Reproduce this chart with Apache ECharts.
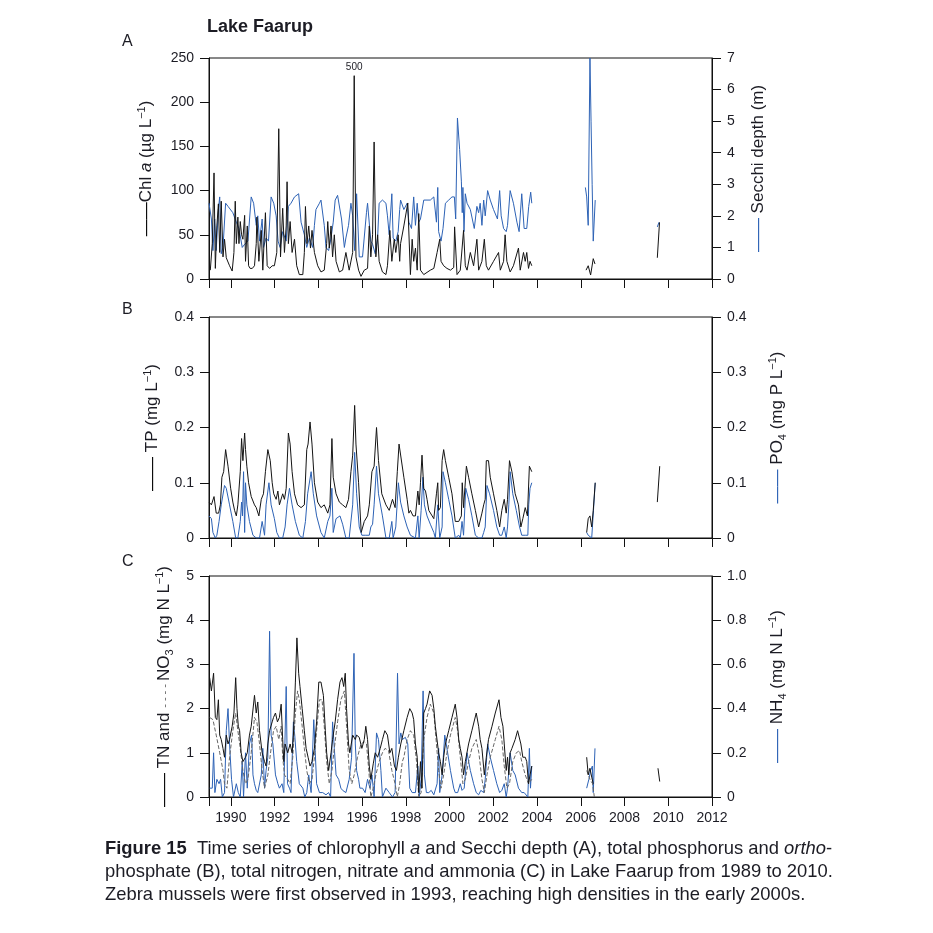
<!DOCTYPE html>
<html><head><meta charset="utf-8">
<script src="https://cdn.jsdelivr.net/npm/echarts@6/dist/echarts.min.js"></script>
<style>html,body{margin:0;padding:0;background:#fff}#c{width:933px;height:933px}</style>
</head><body><div id="c"></div>
<script>
// ---- tick labels ----
const xTicks = [1989,1990,1992,1994,1996,1998,2000,2002,2004,2006,2008,2010,2012];
const xLabels = [1990,1992,1994,1996,1998,2000,2002,2004,2006,2008,2010,2012];

// ---- Panel A: Chl a (µg/L) ----
const chlA_1 = [[1989.06,10],[1989.15,40],[1989.23,120],[1989.29,12],[1989.36,60],[1989.43,85],[1989.49,30],[1989.56,88],[1989.64,25],[1989.71,45],[1989.79,24],[1989.94,15],[1990.06,9],[1990.14,30],[1990.20,88],[1990.25,40],[1990.32,70],[1990.37,40],[1990.43,65],[1990.49,50],[1990.55,45],[1990.63,72],[1990.67,20],[1990.75,60],[1990.81,15],[1990.88,12],[1990.98,12],[1991.08,15],[1991.16,40],[1991.19,70],[1991.28,20],[1991.39,55],[1991.46,10],[1991.58,75],[1991.66,15],[1991.77,12],[1991.89,15],[1991.99,15],[1992.10,30],[1992.19,170],[1992.27,25],[1992.37,80],[1992.45,30],[1992.53,60],[1992.57,110],[1992.63,40],[1992.71,65],[1992.80,30],[1992.91,45],[1993.01,15],[1993.13,5],[1993.29,5],[1993.36,30],[1993.41,82],[1993.48,40],[1993.56,60],[1993.64,35],[1993.71,55],[1993.82,30],[1993.97,15],[1994.12,8],[1994.27,10],[1994.38,40],[1994.43,65],[1994.50,35],[1994.58,60],[1994.65,25],[1994.73,50],[1994.81,20],[1994.96,8],[1995.11,10],[1995.26,30],[1995.41,10],[1995.57,30],[1995.64,230],[1995.72,25],[1995.84,10],[1995.95,3],[1996.10,10],[1996.25,12],[1996.33,60],[1996.40,25],[1996.48,50],[1996.55,155],[1996.63,25],[1996.71,50],[1996.78,20],[1996.93,8],[1997.09,5],[1997.16,15],[1997.27,55],[1997.36,20],[1997.47,45],[1997.54,30],[1997.65,50],[1997.72,20],[1997.76,40],[1997.91,60],[1998.09,86],[1998.21,5],[1998.29,45],[1998.36,20],[1998.44,35],[1998.52,10],[1998.59,74],[1998.67,10],[1998.82,5],[1999.12,10],[1999.28,12],[1999.43,30],[1999.55,45],[1999.61,20],[1999.73,15],[1999.88,12],[2000.04,10],[2000.19,13],[2000.23,59],[2000.34,5],[2000.49,10],[2000.64,55],[2000.72,15],[2000.80,10],[2000.95,30],[2001.10,15],[2001.25,45],[2001.33,10],[2001.48,20],[2001.59,45],[2001.68,15],[2001.78,10],[2002.01,20],[2002.24,30],[2002.32,10],[2002.47,20],[2002.54,50],[2002.62,20],[2002.77,8],[2002.92,15],[2003.15,35],[2003.23,10],[2003.38,30],[2003.46,20],[2003.53,30],[2003.61,12],[2003.68,20],[2003.76,15]];
const chlA_2 = [[2006.24,10],[2006.34,15],[2006.45,4.5],[2006.57,23],[2006.65,17]];
const chlA_3 = [[2009.50,24],[2009.60,64]];

// ---- Panel A: Secchi depth (m) ----
const secchi_1 = [[1989.00,2.4],[1989.11,1.9],[1989.18,0.9],[1989.26,1.9],[1989.33,0.9],[1989.43,2.2],[1989.49,2.6],[1989.56,0.8],[1989.64,1.0],[1989.76,2.4],[1989.87,2.3],[1990.09,2.1],[1990.25,1.8],[1990.37,1.6],[1990.52,1.0],[1990.63,1.1],[1990.78,1.2],[1990.93,2.6],[1991.04,2.4],[1991.16,1.7],[1991.23,2.0],[1991.31,1.2],[1991.43,1.9],[1991.49,1.0],[1991.61,1.3],[1991.72,1.2],[1991.84,2.6],[1991.96,2.4],[1992.07,2.0],[1992.16,1.2],[1992.25,1.0],[1992.37,1.5],[1992.53,1.2],[1992.63,2.3],[1992.75,2.4],[1992.91,2.6],[1993.10,2.7],[1993.21,1.8],[1993.36,1.4],[1993.47,1.0],[1993.59,1.3],[1993.74,1.0],[1993.82,1.7],[1993.89,2.2],[1994.05,2.4],[1994.12,2.5],[1994.27,1.7],[1994.35,1.0],[1994.47,0.9],[1994.58,1.3],[1994.68,1.8],[1994.77,2.5],[1994.88,2.65],[1994.96,2.6],[1995.06,1.9],[1995.19,1.0],[1995.26,1.3],[1995.38,1.7],[1995.49,2.4],[1995.57,2.0],[1995.66,0.9],[1995.75,2.7],[1995.87,0.7],[1996.02,0.7],[1996.20,2.1],[1996.25,2.4],[1996.40,1.2],[1996.48,1.1],[1996.60,0.8],[1996.71,1.3],[1996.78,2.4],[1996.93,2.5],[1997.09,2.4],[1997.16,2.0],[1997.24,1.4],[1997.36,2.7],[1997.42,1.3],[1997.54,1.2],[1997.65,1.5],[1997.72,2.2],[1997.76,2.5],[1997.91,2.2],[1998.06,2.4],[1998.14,1.8],[1998.26,1.6],[1998.36,2.6],[1998.44,1.7],[1998.52,2.4],[1998.59,1.8],[1998.67,1.9],[1998.82,2.5],[1999.12,2.5],[1999.28,2.6],[1999.40,1.8],[1999.46,2.9],[1999.50,1.5],[1999.61,1.2],[1999.70,1.6],[1999.81,2.4],[1999.96,2.5],[2000.11,2.6],[2000.22,2.6],[2000.28,1.9],[2000.36,5.1],[2000.46,4.1],[2000.54,3.1],[2000.58,2.1],[2000.61,2.9],[2000.66,1.5],[2000.72,2.7],[2000.80,2.4],[2000.95,2.2],[2001.13,1.6],[2001.25,2.3],[2001.33,2.1],[2001.40,2.4],[2001.48,1.7],[2001.56,2.5],[2001.63,2.0],[2001.74,2.8],[2001.86,2.5],[2002.01,2.2],[2002.19,1.9],[2002.29,2.8],[2002.36,2.0],[2002.47,1.6],[2002.59,1.5],[2002.65,1.7],[2002.77,2.8],[2002.92,2.4],[2003.08,1.8],[2003.18,1.5],[2003.30,2.7],[2003.41,1.6],[2003.53,1.6],[2003.62,2.3],[2003.71,2.75],[2003.76,2.4]];
const secchi_2 = [[2006.21,2.9],[2006.27,2.6],[2006.34,1.7],[2006.42,7.0],[2006.47,5.0],[2006.52,3.0],[2006.57,1.2],[2006.66,2.5]];
const secchi_3 = [[2009.50,1.65],[2009.58,1.8]];

// ---- Panel B: TP (mg/L) ----
const tp_1 = [[1989.00,0.065],[1989.11,0.06],[1989.23,0.075],[1989.33,0.045],[1989.44,0.045],[1989.52,0.06],[1989.59,0.11],[1989.67,0.12],[1989.76,0.16],[1989.87,0.13],[1989.99,0.09],[1990.09,0.065],[1990.17,0.05],[1990.25,0.04],[1990.32,0.06],[1990.43,0.12],[1990.49,0.18],[1990.55,0.14],[1990.63,0.19],[1990.67,0.16],[1990.73,0.13],[1990.81,0.10],[1990.93,0.075],[1991.08,0.06],[1991.16,0.055],[1991.28,0.04],[1991.39,0.07],[1991.49,0.08],[1991.58,0.12],[1991.69,0.16],[1991.80,0.14],[1991.89,0.10],[1991.96,0.08],[1992.07,0.07],[1992.15,0.085],[1992.22,0.06],[1992.37,0.08],[1992.45,0.07],[1992.53,0.09],[1992.63,0.19],[1992.71,0.17],[1992.80,0.12],[1992.91,0.08],[1993.05,0.06],[1993.21,0.055],[1993.36,0.06],[1993.47,0.16],[1993.53,0.17],[1993.62,0.21],[1993.71,0.17],[1993.82,0.10],[1993.97,0.065],[1994.12,0.055],[1994.27,0.06],[1994.43,0.045],[1994.53,0.06],[1994.62,0.18],[1994.68,0.11],[1994.81,0.08],[1994.96,0.065],[1995.11,0.06],[1995.26,0.055],[1995.38,0.07],[1995.49,0.12],[1995.57,0.15],[1995.66,0.24],[1995.72,0.17],[1995.84,0.10],[1995.96,0.01],[1996.10,0.03],[1996.25,0.04],[1996.33,0.06],[1996.45,0.12],[1996.55,0.13],[1996.66,0.20],[1996.75,0.14],[1996.90,0.08],[1997.09,0.06],[1997.24,0.05],[1997.39,0.07],[1997.51,0.055],[1997.61,0.12],[1997.69,0.17],[1997.91,0.11],[1998.06,0.07],[1998.14,0.045],[1998.21,0.05],[1998.33,0.04],[1998.44,0.04],[1998.55,0.085],[1998.61,0.06],[1998.67,0.10],[1998.74,0.15],[1998.82,0.09],[1998.90,0.085],[1998.97,0.07],[1999.05,0.05],[1999.12,0.05],[1999.28,0.035],[1999.40,0.08],[1999.46,0.10],[1999.50,0.05],[1999.58,0.055],[1999.66,0.14],[1999.73,0.16],[1999.81,0.14],[1999.96,0.11],[2000.11,0.08],[2000.26,0.03],[2000.42,0.03],[2000.54,0.04],[2000.58,0.10],[2000.64,0.055],[2000.77,0.13],[2000.87,0.11],[2001.02,0.08],[2001.18,0.05],[2001.33,0.02],[2001.48,0.045],[2001.56,0.06],[2001.63,0.07],[2001.68,0.14],[2001.78,0.14],[2001.86,0.11],[2002.01,0.08],[2002.16,0.05],[2002.29,0.02],[2002.39,0.05],[2002.50,0.07],[2002.59,0.045],[2002.65,0.07],[2002.74,0.14],[2002.85,0.12],[2003.00,0.08],[2003.15,0.06],[2003.26,0.02],[2003.35,0.035],[2003.46,0.055],[2003.56,0.04],[2003.65,0.13],[2003.71,0.13],[2003.76,0.12]];
const tp_2 = [[2006.27,0.01],[2006.34,0.035],[2006.42,0.04],[2006.50,0.02],[2006.57,0.05],[2006.66,0.10]];
const tp_3 = [[2009.50,0.065],[2009.61,0.13]];

// ---- Panel B: PO4 (mg P/L) ----
const po4_1 = [[1989.00,0.04],[1989.11,0.035],[1989.18,0.01],[1989.29,0.0],[1989.36,0.005],[1989.46,0.03],[1989.56,0.06],[1989.71,0.095],[1989.79,0.09],[1989.94,0.06],[1990.09,0.03],[1990.22,0.0],[1990.32,0.0],[1990.43,0.03],[1990.49,0.065],[1990.53,0.04],[1990.58,0.12],[1990.63,0.01],[1990.67,0.10],[1990.73,0.06],[1990.85,0.03],[1991.01,0.005],[1991.16,0.0],[1991.31,0.0],[1991.43,0.03],[1991.54,0.005],[1991.61,0.06],[1991.74,0.10],[1991.84,0.06],[1991.99,0.035],[1992.10,0.01],[1992.22,0.0],[1992.37,0.0],[1992.48,0.02],[1992.57,0.06],[1992.68,0.09],[1992.80,0.06],[1992.95,0.03],[1993.13,0.005],[1993.29,0.0],[1993.41,0.03],[1993.51,0.08],[1993.67,0.12],[1993.77,0.08],[1993.92,0.04],[1994.12,0.01],[1994.27,0.0],[1994.43,0.03],[1994.53,0.04],[1994.62,0.09],[1994.68,0.01],[1994.81,0.035],[1994.99,0.04],[1995.11,0.025],[1995.26,0.0],[1995.41,0.0],[1995.57,0.06],[1995.66,0.155],[1995.75,0.08],[1995.87,0.02],[1995.99,0.005],[1996.17,0.005],[1996.33,0.005],[1996.40,0.02],[1996.48,0.025],[1996.55,0.06],[1996.66,0.13],[1996.75,0.08],[1996.93,0.04],[1997.09,0.0],[1997.24,0.0],[1997.36,0.03],[1997.42,0.0],[1997.54,0.02],[1997.66,0.10],[1997.76,0.065],[1997.91,0.04],[1998.06,0.02],[1998.21,0.005],[1998.44,0.0],[1998.55,0.04],[1998.61,0.0],[1998.70,0.05],[1998.78,0.11],[1998.85,0.06],[1998.97,0.04],[1999.12,0.025],[1999.28,0.01],[1999.35,0.0],[1999.46,0.06],[1999.55,0.0],[1999.66,0.02],[1999.70,0.12],[1999.81,0.10],[1999.96,0.07],[2000.11,0.04],[2000.26,0.0],[2000.42,0.005],[2000.49,0.0],[2000.57,0.03],[2000.64,0.005],[2000.74,0.09],[2000.87,0.07],[2001.02,0.04],[2001.18,0.005],[2001.33,0.0],[2001.48,0.0],[2001.56,0.01],[2001.63,0.02],[2001.71,0.095],[2001.83,0.08],[2002.01,0.05],[2002.16,0.02],[2002.29,0.005],[2002.39,0.005],[2002.50,0.02],[2002.59,0.0],[2002.65,0.02],[2002.71,0.06],[2002.77,0.12],[2002.89,0.08],[2003.05,0.05],[2003.20,0.02],[2003.30,0.005],[2003.46,0.005],[2003.58,0.005],[2003.62,0.06],[2003.68,0.09],[2003.76,0.10]];
const po4_2 = [[2006.27,0.01],[2006.34,0.005],[2006.42,0.005],[2006.50,0.0],[2006.57,0.0],[2006.66,0.10]];

// ---- Panel C: TN (mg N/L) ----
const tn_1 = [[1989.03,2.7],[1989.11,2.4],[1989.21,2.8],[1989.29,1.8],[1989.36,1.75],[1989.43,2.2],[1989.49,1.4],[1989.56,1.3],[1989.64,1.1],[1989.71,0.9],[1989.79,1.4],[1989.87,1.2],[1989.94,1.3],[1990.06,1.6],[1990.14,1.9],[1990.22,2.7],[1990.28,2.0],[1990.34,1.6],[1990.40,1.5],[1990.47,1.0],[1990.55,0.8],[1990.67,0.9],[1990.75,1.0],[1990.85,1.4],[1990.93,1.6],[1991.08,2.3],[1991.16,1.9],[1991.23,2.15],[1991.31,1.5],[1991.43,1.0],[1991.54,0.8],[1991.61,0.7],[1991.69,1.2],[1991.77,1.5],[1991.89,1.7],[1991.95,1.8],[1992.04,1.9],[1992.13,1.7],[1992.22,1.8],[1992.30,2.1],[1992.37,1.3],[1992.42,0.8],[1992.48,1.2],[1992.60,1.0],[1992.71,1.2],[1992.80,1.0],[1992.86,1.4],[1992.95,2.6],[1993.02,3.6],[1993.10,2.8],[1993.16,2.5],[1993.26,2.0],[1993.36,1.5],[1993.44,1.1],[1993.53,0.9],[1993.62,0.7],[1993.71,0.8],[1993.82,1.1],[1993.92,1.7],[1994.02,2.6],[1994.12,2.6],[1994.23,2.3],[1994.32,1.5],[1994.38,1.0],[1994.47,0.6],[1994.58,1.0],[1994.65,1.3],[1994.77,1.7],[1994.88,2.2],[1994.99,2.6],[1995.08,2.7],[1995.16,2.5],[1995.23,2.8],[1995.29,2.0],[1995.38,1.2],[1995.44,1.0],[1995.57,1.4],[1995.69,1.3],[1995.75,1.4],[1995.87,1.35],[1995.99,1.1],[1996.10,1.3],[1996.17,1.6],[1996.25,1.3],[1996.33,0.7],[1996.40,0.4],[1996.51,0.75],[1996.60,1.0],[1996.71,0.9],[1996.83,1.1],[1996.93,1.3],[1997.04,1.5],[1997.16,1.4],[1997.27,1.0],[1997.36,1.1],[1997.48,0.7],[1997.57,0.6],[1997.66,0.9],[1997.77,1.2],[1997.91,1.5],[1998.06,1.8],[1998.18,2.0],[1998.29,1.9],[1998.36,1.75],[1998.44,1.2],[1998.52,0.9],[1998.59,0.1],[1998.67,0.8],[1998.74,0.2],[1998.82,1.9],[1998.90,2.0],[1998.97,2.1],[1999.09,2.4],[1999.20,2.3],[1999.28,2.0],[1999.35,1.6],[1999.43,1.6],[1999.50,1.0],[1999.58,0.8],[1999.66,0.5],[1999.73,0.9],[1999.81,1.2],[1999.96,1.5],[2000.11,1.8],[2000.26,2.1],[2000.34,1.8],[2000.42,1.3],[2000.49,1.1],[2000.57,0.9],[2000.64,0.5],[2000.72,0.8],[2000.87,1.2],[2001.02,1.5],[2001.22,1.9],[2001.33,1.6],[2001.40,1.3],[2001.48,1.1],[2001.59,0.5],[2001.68,0.9],[2001.78,1.3],[2001.94,1.6],[2002.09,1.9],[2002.26,2.2],[2002.35,1.8],[2002.44,1.6],[2002.50,1.2],[2002.59,0.6],[2002.65,0.9],[2002.71,0.5],[2002.77,1.0],[2002.85,1.1],[2003.00,1.3],[2003.11,1.5],[2003.20,1.5],[2003.26,1.2],[2003.35,0.9],[2003.46,0.9],[2003.53,0.8],[2003.61,0.3],[2003.68,0.5],[2003.76,0.7]];
const tn_2 = [[2006.27,0.9],[2006.34,0.5],[2006.42,0.65],[2006.50,0.45],[2006.57,0.3]];
const tn_3 = [[2009.53,0.65],[2009.61,0.35]];

// ---- Panel C: NO3 (mg N/L) ----
const no3_1 = [[1989.03,1.8],[1989.18,1.75],[1989.33,1.4],[1989.49,1.0],[1989.64,0.6],[1989.71,0.3],[1989.82,0.2],[1989.94,0.9],[1990.09,1.5],[1990.22,1.9],[1990.32,1.5],[1990.43,1.1],[1990.55,0.6],[1990.67,0.3],[1990.78,0.4],[1990.93,1.0],[1991.08,1.8],[1991.19,1.7],[1991.31,1.2],[1991.43,0.6],[1991.54,0.2],[1991.69,0.5],[1991.84,1.1],[1991.95,1.5],[1992.07,1.6],[1992.19,1.3],[1992.30,1.6],[1992.37,0.9],[1992.45,0.5],[1992.60,0.4],[1992.71,0.3],[1992.83,0.9],[1992.95,1.9],[1993.05,2.4],[1993.13,2.2],[1993.26,1.6],[1993.36,1.1],[1993.47,0.6],[1993.59,0.3],[1993.71,0.4],[1993.82,0.9],[1993.92,1.5],[1994.05,2.2],[1994.17,2.2],[1994.27,1.6],[1994.38,0.8],[1994.50,0.3],[1994.62,0.6],[1994.73,1.1],[1994.88,1.7],[1995.03,2.2],[1995.19,2.4],[1995.29,1.6],[1995.41,0.6],[1995.53,0.3],[1995.64,0.5],[1995.79,0.9],[1995.95,1.2],[1996.10,1.25],[1996.20,1.2],[1996.29,0.7],[1996.40,0.0],[1996.51,0.2],[1996.63,0.5],[1996.78,0.8],[1996.93,1.0],[1997.05,1.1],[1997.21,1.05],[1997.36,0.6],[1997.51,0.3],[1997.61,0.0],[1997.72,0.3],[1997.84,0.8],[1997.91,0.9],[1998.06,1.3],[1998.21,1.5],[1998.36,1.4],[1998.49,0.8],[1998.59,0.0],[1998.70,0.1],[1998.82,1.3],[1998.97,1.8],[1999.12,2.1],[1999.28,1.9],[1999.40,1.2],[1999.50,0.6],[1999.61,0.2],[1999.73,0.5],[1999.88,1.0],[2000.04,1.4],[2000.26,1.8],[2000.37,1.5],[2000.49,0.9],[2000.61,0.3],[2000.72,0.4],[2000.87,0.8],[2001.02,1.1],[2001.22,1.3],[2001.34,1.0],[2001.48,0.4],[2001.59,0.1],[2001.71,0.5],[2001.86,0.9],[2002.09,1.3],[2002.26,1.6],[2002.39,1.3],[2002.50,0.7],[2002.62,0.2],[2002.74,0.3],[2002.89,0.8],[2003.05,1.0],[2003.20,1.05],[2003.30,0.8],[2003.46,0.5],[2003.61,0.3],[2003.76,0.4]];
const no3_2 = [[2006.27,0.6],[2006.42,0.4],[2006.54,0.3],[2006.62,0.0]];

// ---- Panel C: NH4 (mg N/L, right axis) ----
const nh4_1 = [[1989.03,0.04],[1989.15,0.04],[1989.21,0.2],[1989.27,0.02],[1989.36,0.08],[1989.46,0.06],[1989.53,0.08],[1989.61,0.0],[1989.71,0.02],[1989.79,0.3],[1989.87,0.4],[1989.94,0.24],[1990.03,0.08],[1990.12,0.0],[1990.25,0.06],[1990.34,0.02],[1990.43,0.0],[1990.52,0.16],[1990.58,0.0],[1990.67,0.2],[1990.75,0.04],[1990.85,0.24],[1990.95,0.28],[1991.01,0.1],[1991.08,0.06],[1991.16,0.03],[1991.23,0.02],[1991.31,0.02],[1991.39,0.1],[1991.46,0.22],[1991.54,0.04],[1991.61,0.12],[1991.69,0.18],[1991.77,0.75],[1991.84,0.28],[1991.92,0.24],[1992.04,0.1],[1992.15,0.06],[1992.22,0.04],[1992.34,0.06],[1992.42,0.02],[1992.53,0.5],[1992.59,0.06],[1992.68,0.04],[1992.75,0.02],[1992.86,0.34],[1992.92,0.28],[1993.01,0.16],[1993.13,0.06],[1993.29,0.04],[1993.38,0.0],[1993.47,0.02],[1993.56,0.1],[1993.67,0.02],[1993.79,0.35],[1993.86,0.2],[1993.92,0.06],[1994.05,0.02],[1994.20,0.02],[1994.35,0.01],[1994.47,0.02],[1994.56,0.0],[1994.65,0.34],[1994.73,0.22],[1994.81,0.1],[1994.93,0.08],[1995.03,0.04],[1995.11,0.03],[1995.26,0.02],[1995.41,0.08],[1995.52,0.18],[1995.63,0.65],[1995.69,0.24],[1995.75,0.12],[1995.84,0.08],[1995.90,0.04],[1996.02,0.04],[1996.14,0.02],[1996.25,0.08],[1996.36,0.04],[1996.45,0.1],[1996.55,0.0],[1996.66,0.29],[1996.75,0.26],[1996.86,0.12],[1996.93,0.0],[1997.09,0.04],[1997.24,0.02],[1997.39,0.0],[1997.51,0.02],[1997.62,0.56],[1997.69,0.24],[1997.77,0.29],[1997.84,0.26],[1997.98,0.27],[1998.09,0.24],[1998.18,0.04],[1998.29,0.02],[1998.44,0.02],[1998.55,0.14],[1998.61,0.0],[1998.70,0.08],[1998.79,0.48],[1998.85,0.1],[1998.94,0.02],[1999.05,0.02],[1999.16,0.03],[1999.28,0.01],[1999.43,0.06],[1999.50,0.22],[1999.55,0.02],[1999.66,0.1],[1999.78,0.28],[1999.88,0.22],[2000.04,0.12],[2000.19,0.04],[2000.26,0.02],[2000.37,0.02],[2000.49,0.06],[2000.57,0.03],[2000.67,0.04],[2000.80,0.2],[2000.95,0.12],[2001.10,0.06],[2001.22,0.02],[2001.33,0.01],[2001.43,0.03],[2001.56,0.02],[2001.63,0.08],[2001.74,0.24],[2001.86,0.18],[2002.01,0.12],[2002.16,0.06],[2002.29,0.02],[2002.39,0.03],[2002.50,0.06],[2002.59,0.0],[2002.65,0.04],[2002.77,0.2],[2002.89,0.12],[2003.00,0.1],[2003.15,0.04],[2003.30,0.02],[2003.41,0.02],[2003.50,0.02],[2003.58,0.0],[2003.65,0.22],[2003.70,0.04],[2003.76,0.14]];
const nh4_2 = [[2006.27,0.04],[2006.37,0.08],[2006.45,0.12],[2006.53,0.14],[2006.57,0.02],[2006.65,0.22]];

// ---- build ----
function joinSegs(...segs){
  const out=[];
  segs.forEach((s,i)=>{
    if(i>0){ const p=segs[i-1][segs[i-1].length-1][0]; out.push([(p+s[0][0])/2, null]); }
    s.forEach(d=>out.push(d));
  });
  return out;
}
const BLUE='#2d62b5', INK='#111', TXT='#1c1c24';
const FONT='"Liberation Sans", Arial, sans-serif';
let spike=chlA_1[0]; chlA_1.forEach(d=>{ if(d[1]>spike[1]) spike=d; });

const tops=[58,317,576];
const grids=tops.map(t=>({left:209, width:503, top:t, height:221, show:true, borderColor:INK, borderWidth:1, backgroundColor:'transparent'}));
const xAxes=tops.map((t,i)=>({
  type:'value', gridIndex:i, min:1989, max:2012,
  axisLine:{show:true, lineStyle:{color:INK, width:1}},
  axisTick:{show:true, customValues:xTicks, length:9, lineStyle:{color:INK}},
  axisLabel:{show:i===2, customValues:xLabels, fontSize:14, color:TXT, fontFamily:FONT, margin:14, formatter: v => String(v)},
  splitLine:{show:false}
}));
const richBase={
  ln:{color:'#000'}, bl:{color:BLUE},
  ds:{color:'#666', fontSize:11},
  it:{fontStyle:'italic'},
  sup:{fontSize:11, verticalAlign:'top', lineHeight:21},
  sub:{fontSize:11, verticalAlign:'bottom', lineHeight:21}
};
function yAx(gi, pos, min, max, interval, name, gap, fmt){
  return {
    type:'value', gridIndex:gi, position:pos, min, max, interval,
    axisLine:{show:true, lineStyle:{color:INK, width:1}},
    axisTick:{show:true, length:9, lineStyle:{color:INK}},
    axisLabel:{fontSize:14, color:TXT, fontFamily:FONT, margin:15, formatter:fmt},
    splitLine:{show:false},
    name, nameLocation:'middle', nameRotate:90, nameGap:gap,
    nameTextStyle:{fontSize:17, color:TXT, fontFamily:FONT, lineHeight:21, rich:richBase}
  };
}
const f1 = v => v===0 ? '0' : v.toFixed(1);
const yAxes=[
  yAx(0,'left',0,250,50,'{ln|——}Chl {it|a} (µg L{sup|−1})',52),
  yAx(0,'right',0,7,1,'{bl|——} Secchi depth (m)',36),
  yAx(1,'left',0,0.4,0.1,'{ln|——} TP (mg L{sup|−1})',46, f1),
  yAx(1,'right',0,0.4,0.1,'{bl|——} PO{sub|4} (mg P L{sup|−1})',55, f1),
  yAx(2,'left',0,5,1,'{ln|——} TN and {ds|- - - - }NO{sub|3} (mg N L{sup|−1})',34),
  yAx(2,'right',0,1,0.2,'{bl|——} NH{sub|4} (mg N L{sup|−1})',55, f1)
];
function line(data, xi, yi, color, extra){
  return Object.assign({type:'line', xAxisIndex:xi, yAxisIndex:yi, data, showSymbol:false, symbol:'none',
    connectNulls:false, animation:false, silent:true,
    lineStyle:{color, width:1}, itemStyle:{color}}, extra||{});
}
const series=[
  line(joinSegs(secchi_1,secchi_2,secchi_3),0,1,BLUE),
  line(joinSegs(chlA_1,chlA_2,chlA_3),0,0,'#141414',{
    markPoint:{symbol:'circle', symbolSize:1, itemStyle:{color:'rgba(0,0,0,0)'}, silent:true,
      label:{show:true, position:'top', distance:3, formatter:'500', fontSize:10, color:TXT, fontFamily:FONT},
      data:[{coord:spike}]}
  }),
  line(joinSegs(po4_1,po4_2),1,3,BLUE),
  line(joinSegs(tp_1,tp_2,tp_3),1,2,'#141414'),
  line(joinSegs(nh4_1,nh4_2),2,5,BLUE),
  line(joinSegs(no3_1,no3_2),2,4,'#666',{lineStyle:{color:'#666', width:1, type:[4,2]}}),
  line(joinSegs(tn_1,tn_2,tn_3),2,4,'#141414')
];

const CS=18.4;
const capRich={ b:{fontWeight:'bold', fontSize:CS, fontFamily:FONT, fill:TXT}, i:{fontStyle:'italic', fontSize:CS, fontFamily:FONT, fill:TXT} };
function cap(y, text){
  return {type:'text', left:105, top:y, silent:true,
    style:{text, fontSize:CS, fontFamily:FONT, fill:TXT, rich:capRich}};
}
const graphic=[
  {type:'text', left:207, top:18, style:{text:'Lake Faarup', fontSize:18, fontWeight:'bold', fontFamily:FONT, fill:TXT}},
  {type:'text', left:122, top:34, style:{text:'A', fontSize:16, fontFamily:FONT, fill:TXT}},
  {type:'text', left:122, top:302, style:{text:'B', fontSize:16, fontFamily:FONT, fill:TXT}},
  {type:'text', left:122, top:554, style:{text:'C', fontSize:16, fontFamily:FONT, fill:TXT}},
  cap(840, '{b|Figure 15}  Time series of chlorophyll {i|a} and Secchi depth (A), total phosphorus and {i|ortho}-'),
  cap(863, 'phosphate (B), total nitrogen, nitrate and ammonia (C) in Lake Faarup from 1989 to 2010.'),
  cap(886, 'Zebra mussels were first observed in 1993, reaching high densities in the early 2000s.')
];

const chart=echarts.init(document.getElementById('c'), null, {renderer:'canvas'});
chart.setOption({backgroundColor:'#fff', animation:false, grid:grids, xAxis:xAxes, yAxis:yAxes, series, graphic});
</script></body></html>
